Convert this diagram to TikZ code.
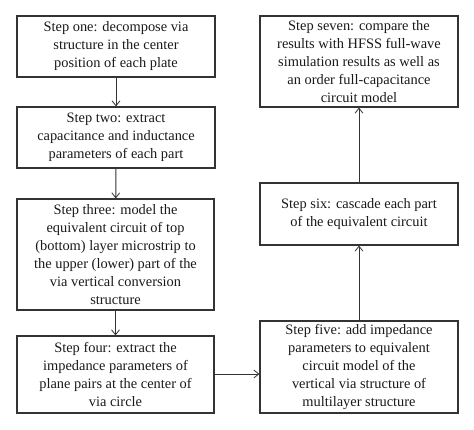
\documentclass[tikz,border=0pt]{standalone}
\usepackage{fontspec}
\setmainfont{Liberation Serif}
\usetikzlibrary{arrows.meta}
\begin{document}
\begin{tikzpicture}[x=1pt,y=-1pt,
  stepbox/.style={draw=black!80, line width=1.2pt, inner sep=0pt, align=center,
    font=\fontsize{14.4}{18}\selectfont, text=black!90},
  conn/.style={draw=black!80, line width=1pt, -{Straight Barb[length=5pt,width=8pt,line width=0.8pt]}}]
\useasboundingbox (0,0) rectangle (474,430);
\node[stepbox, minimum width=198pt, minimum height=61pt] (b1) at (116,46.5)
  {Step one: decompose via\\structure in the center\\position of each plate};
\node[stepbox, minimum width=198pt, minimum height=61pt] (b2) at (116,137.5)
  {Step two: extract\\capacitance and inductance\\parameters of each part};
\node[stepbox, minimum width=197pt, minimum height=111pt] (b3) at (115.5,254.5)
  {Step three: model the\\equivalent circuit of top\\(bottom) layer microstrip to\\the upper (lower) part of the\\via vertical conversion\\structure};
\node[stepbox, minimum width=197pt, minimum height=77pt] (b4) at (115.5,374.5)
  {Step four: extract the\\impedance parameters of\\plane pairs at the center of\\via circle};
\node[stepbox, minimum width=198pt, minimum height=92pt] (b5) at (359,367)
  {Step five: add impedance\\parameters to equivalent\\circuit model of the\\vertical via structure of\\multilayer structure};
\node[stepbox, minimum width=198pt, minimum height=62pt] (b6) at (359,214)
  {Step six: cascade each part\\of the equivalent circuit};
\node[stepbox, minimum width=198pt, minimum height=91pt] (b7) at (359,61.5)
  {Step seven: compare the\\results with HFSS full-wave\\simulation results as well as\\an order full-capacitance\\circuit model};
\draw[conn] (b1) -- (b2);
\draw[conn] (b2) -- (b3);
\draw[conn] (b3) -- (b4);
\draw[conn] (b4.east |- 0,374) -- (b5.west |- 0,374);
\draw[conn] (b5) -- (b6);
\draw[conn] (b6) -- (b7);
\end{tikzpicture}
\end{document}
